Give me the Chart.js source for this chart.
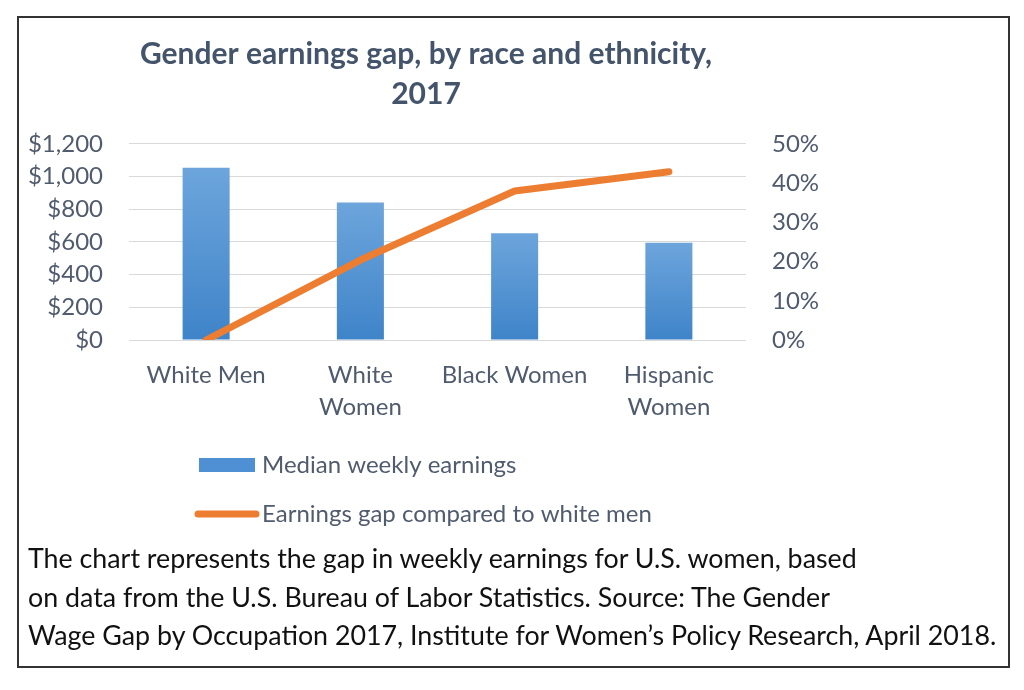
<!DOCTYPE html>
<html>
<head>
<meta charset="utf-8">
<title>Gender earnings gap</title>
<script src="https://cdn.jsdelivr.net/npm/chart.js@4.4.1/dist/chart.umd.min.js"></script>
<style>
  body { margin: 0; background: #fff; }
  #frame {
    position: absolute; left: 17px; top: 16px;
    width: 993px; height: 652px;
    border: 2px solid #333; box-sizing: border-box;
  }
  #wrap { position: absolute; left: 20px; top: 20px; width: 812px; height: 520px; }
  #caption {
    position: absolute; left: 28px; top: 539px;
    font-family: Lato, sans-serif; font-size: 26.8px; line-height: 38.5px;
    color: #111; white-space: nowrap;
  }
</style>
</head>
<body>
<div id="frame"></div>
<div id="wrap"><canvas id="myChart"></canvas></div>
<div id="caption">
  The chart represents the gap in weekly earnings for U.S. women, based<br>
  on data from the U.S. Bureau of Labor Statistics. Source: The Gender<br>
  Wage Gap by Occupation 2017, Institute for Women’s Policy Research, April 2018.
</div>
<script>
// data
const categories = ['White Men', ['White', 'Women'], 'Black Women', ['Hispanic', 'Women']];
const weeklyEarnings = [1055, 841, 654, 596];   // dollars
const earningsGap = [0, 20.4, 38.0, 42.9];      // percent
const dollarTicks = [0, 200, 400, 600, 800, 1000, 1200];
const percentTicks = [0, 10, 20, 30, 40, 50];

const textColor = '#505b6d';
const fontFamily = 'Lato, sans-serif';

const ctx = document.getElementById('myChart');

// two-row legend under the x labels
const stackedLegend = {
  id: 'stackedLegend',
  afterDraw(chart) {
    const c = chart.ctx;
    const left = chart.chartArea.left;
    c.save();
    c.font = '24px ' + fontFamily;
    c.textBaseline = 'middle';
    c.textAlign = 'left';

    // bars
    const y1 = 445;
    c.fillStyle = '#4f90d4';
    c.fillRect(left + 70, y1 - 7, 56, 14);
    c.fillStyle = textColor;
    c.fillText(chart.data.datasets[1].label, left + 133, y1);

    // line
    const y2 = 494;
    c.strokeStyle = '#ed7d31';
    c.lineWidth = 7;
    c.lineCap = 'round';
    c.beginPath();
    c.moveTo(left + 69, y2);
    c.lineTo(left + 127, y2);
    c.stroke();
    c.fillText(chart.data.datasets[0].label, left + 133, y2);
    c.restore();
  }
};

new Chart(ctx, {
  type: 'bar',
  data: {
    labels: categories,
    datasets: [{
      type: 'line',
      label: 'Earnings gap compared to white men',
      data: earningsGap,
      yAxisID: 'y1',
      borderColor: '#ed7d31',
      borderWidth: 7,
      borderCapStyle: 'round',
      borderJoinStyle: 'round',
      pointRadius: 0,
      tension: 0,
      order: 0
    }, {
      label: 'Median weekly earnings',
      data: weeklyEarnings,
      yAxisID: 'y',
      order: 1,
      categoryPercentage: 1,
      barPercentage: 0.305,
      backgroundColor(context) {
        const chart = context.chart;
        if (!chart.chartArea) return '#5b9bd5';
        const yScale = chart.scales.y;
        const top = yScale.getPixelForValue(context.raw);
        const bottom = yScale.getPixelForValue(0);
        const g = chart.ctx.createLinearGradient(0, top, 0, bottom);
        g.addColorStop(0, '#6da5dc');
        g.addColorStop(1, '#3f84c9');
        return g;
      }
    }]
  },
  options: {
    responsive: true,
    maintainAspectRatio: false,
    animation: false,
    layout: { padding: { top: 0, left: 0, right: 0, bottom: 100 } },
    plugins: {
      legend: { display: false },
      tooltip: { enabled: false },
      title: {
        display: true,
        text: ['Gender earnings gap, by race and ethnicity,', '2017'],
        color: '#44546a',
        font: { family: fontFamily, size: 30, weight: 'bold', lineHeight: 1.333 },
        padding: { top: 14, bottom: 30 }
      }
    },
    scales: {
      x: {
        grid: { display: false },
        border: { display: false },
        ticks: {
          color: textColor,
          font: { family: fontFamily, size: 24, lineHeight: 1.3 },
          maxRotation: 0,
          autoSkip: false,
          padding: 12
        },
        afterFit(scale) { scale.height = 100; }
      },
      y: {
        position: 'left',
        min: 0,
        max: 1200,
        afterBuildTicks(scale) { scale.ticks = dollarTicks.map(v => ({ value: v })); },
        grid: { color: '#d9d9d9', lineWidth: 1, drawTicks: false },
        border: { display: false },
        ticks: {
          color: textColor,
          font: { family: fontFamily, size: 24 },
          padding: 26,
          callback: v => '$' + v.toLocaleString('en-US')
        },
        afterFit(scale) { scale.width = 109; }
      },
      y1: {
        position: 'right',
        min: 0,
        max: 50,
        afterBuildTicks(scale) { scale.ticks = percentTicks.map(v => ({ value: v })); },
        grid: { display: false, drawTicks: false },
        border: { display: false },
        ticks: {
          color: textColor,
          font: { family: fontFamily, size: 24 },
          padding: 26,
          callback: v => v + '%'
        },
        afterFit(scale) { scale.width = 86; }
      }
    }
  },
  plugins: [stackedLegend]
});
</script>
</body>
</html>
